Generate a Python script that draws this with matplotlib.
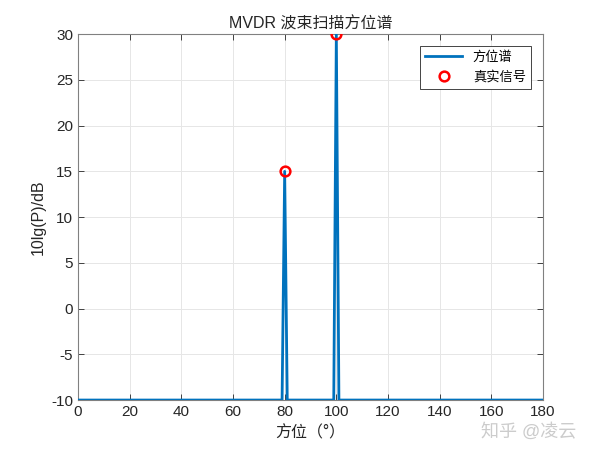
import numpy as np
import matplotlib.pyplot as plt

plt.rcParams['font.family'] = ['Liberation Sans', 'Noto Sans CJK SC', 'DejaVu Sans']
plt.rcParams['axes.unicode_minus'] = False

# 方位谱数据 (1度步长), 底部为 -10 dB
theta = np.arange(0, 181, 1)
peak_angles = [80, 100]
peak_db = [15, 30]
floor_db = -10

spectrum = np.full(theta.shape, floor_db, dtype=float)
for a, p in zip(peak_angles, peak_db):
    spectrum[theta == a] = p

fig = plt.figure(figsize=(6, 4.5), dpi=100, facecolor='white')
ax = fig.add_axes([0.13, 0.111, 0.775, 0.813])

ax.plot(theta, spectrum, color='#0072BD', lw=2, label='方位谱', zorder=3)
ax.plot(peak_angles, peak_db, 'o', mfc='none', mec='red', mew=1.8, ms=7,
        label='真实信号', zorder=4)

ax.set_xlim(0, 180)
ax.set_ylim(-10, 30)
ax.set_xticks(np.arange(0, 181, 20))
ax.set_yticks(np.arange(-10, 31, 5))
ax.grid(True, color='#e6e6e6', lw=0.7)
ax.set_axisbelow(True)
ax.tick_params(direction='in', top=True, right=True, labelsize=11,
               colors='#262626', length=4, width=0.6)
for s in ax.spines.values():
    s.set_color('#808080')
    s.set_linewidth(0.8)

ax.set_title('MVDR 波束扫描方位谱', fontsize=11.5, pad=4, color='#262626')
ax.set_xlabel('方位（°）', fontsize=11.5, color='#262626',
              family=['Noto Sans CJK SC', 'DejaVu Sans'])
ax.set_ylabel('10lg(P)/dB', fontsize=11.5, color='#262626')

leg = ax.legend(loc='upper right', fontsize=9.5, fancybox=False, framealpha=1,
                edgecolor='#262626', handlelength=2.8, borderaxespad=0.9)
leg.get_frame().set_linewidth(0.6)

fig.text(0.96, 0.04, '知乎 @凌云', ha='right', va='center', fontsize=13,
         color='#cccccc')

fig.savefig('out.png', dpi=100)
